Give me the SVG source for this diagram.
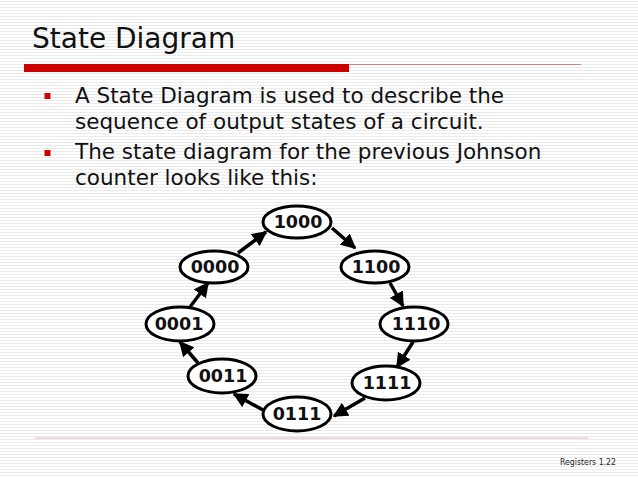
<svg xmlns="http://www.w3.org/2000/svg" width="638" height="478" viewBox="0 0 638 478">
<defs>
<pattern id="stripes" width="8" height="3" patternUnits="userSpaceOnUse">
<rect width="8" height="3" fill="#ffffff"/>
<rect y="1" width="8" height="1" fill="#ebebeb"/>
</pattern>
<marker id="ah" viewBox="0 0 10 10" refX="9" refY="5" markerWidth="4.3" markerHeight="4.3" orient="auto" markerUnits="strokeWidth">
<path d="M0,0 L10,5 L0,10 z" fill="#000"/>
</marker>
<style>
.title{font-family:"DejaVu Sans",Verdana,sans-serif;font-size:28px;fill:#111}
.body{font-family:"DejaVu Sans",Verdana,sans-serif;font-size:21.5px;fill:#111}
.node ellipse{fill:#fff;stroke:#000;stroke-width:3}
.node text{font-family:"DejaVu Sans",Verdana,sans-serif;font-weight:bold;font-size:17.5px;fill:#111;text-anchor:middle}
.edge{stroke:#000;stroke-width:3.5;fill:none;marker-end:url(#ah)}
.foot{font-family:"DejaVu Sans",Verdana,sans-serif;font-size:8.5px;fill:#222}
</style>
</defs>
<rect width="638" height="478" fill="url(#stripes)"/>
<text class="title" x="32" y="48">State Diagram</text>
<rect x="24" y="64" width="325" height="8" fill="#cc0000"/>
<line x1="349" y1="64.5" x2="581" y2="64.5" stroke="#d08080" stroke-width="1"/>
<rect x="44.5" y="93" width="6" height="6" fill="#cc0000"/>
<rect x="44.5" y="150" width="6" height="6" fill="#cc0000"/>
<text class="body" x="75" y="103">A State Diagram is used to describe the</text>
<text class="body" x="75" y="129">sequence of output states of a circuit.</text>
<text class="body" x="75" y="159">The state diagram for the previous Johnson</text>
<text class="body" x="75" y="185">counter looks like this:</text>
<g id="connectors">
<line class="edge" x1="238" y1="253" x2="266" y2="232"/>
<line class="edge" x1="332" y1="228" x2="355" y2="248"/>
<line class="edge" x1="390" y1="283" x2="403" y2="306"/>
<line class="edge" x1="413" y1="342" x2="397" y2="367"/>
<line class="edge" x1="365" y1="398" x2="334" y2="416"/>
<line class="edge" x1="263" y1="410" x2="234" y2="394"/>
<line class="edge" x1="198" y1="363" x2="180" y2="342"/>
<line class="edge" x1="190" y1="307" x2="208" y2="283"/>
</g>
<g id="n1000" class="node"><ellipse cx="297" cy="222" rx="34" ry="16"/><text x="298" y="228">1000</text></g>
<g id="n1100" class="node"><ellipse cx="375" cy="267" rx="34" ry="16"/><text x="376" y="273">1100</text></g>
<g id="n1110" class="node"><ellipse cx="414" cy="324" rx="34" ry="17"/><text x="416" y="330">1110</text></g>
<g id="n1111" class="node"><ellipse cx="386" cy="383" rx="34" ry="17"/><text x="387" y="389">1111</text></g>
<g id="n0111" class="node"><ellipse cx="297" cy="414" rx="34" ry="17"/><text x="297" y="420">0111</text></g>
<g id="n0011" class="node"><ellipse cx="222" cy="376" rx="34" ry="17"/><text x="223" y="382">0011</text></g>
<g id="n0001" class="node"><ellipse cx="180" cy="324" rx="34" ry="17"/><text x="179" y="330">0001</text></g>
<g id="n0000" class="node"><ellipse cx="214" cy="267" rx="34" ry="16"/><text x="215" y="273">0000</text></g>
<line x1="35" y1="438" x2="588" y2="438" stroke="#e0b8b8" stroke-width="1"/>
<text class="foot" x="560" y="465" textLength="56" lengthAdjust="spacingAndGlyphs">Registers 1.22</text>
</svg>
